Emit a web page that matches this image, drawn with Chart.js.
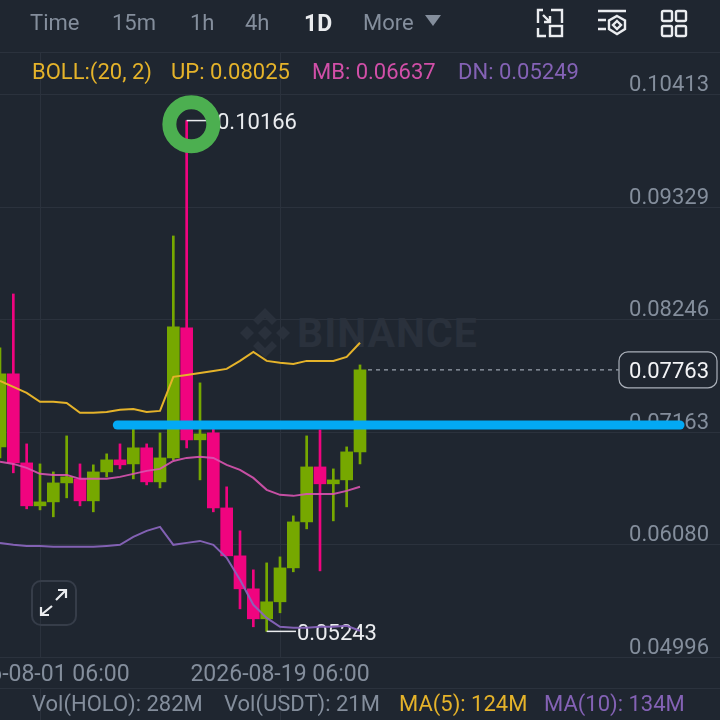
<!DOCTYPE html>
<html>
<head>
<meta charset="utf-8">
<title>HOLO 1D</title>
<script src="https://cdn.jsdelivr.net/npm/chart.js@4"></script>
<style>
  html, body { margin: 0; padding: 0; background: #1f2630; }
  #wrap { position: relative; width: 720px; height: 720px; overflow: hidden; background: #1f2630; font-family: Roboto, sans-serif; }
  #wrap span { position: absolute; white-space: nowrap; line-height: 1; }
  #c { position: absolute; left: 0; top: 0; }
  .tab { top: 12px; font-size: 22px; color: #848e9c; }
  .boll { top: 61px; font-size: 22px; }
  .vol { top: 693px; font-size: 22px; color: #848e9c; }
  .sep { position: absolute; background: #2b323d; }
  svg { position: absolute; }
</style>
</head>
<body>
<div id="wrap">
  <!-- watermark sits under the transparent canvas -->
  <svg style="left:240px;top:308px" width="50" height="50" viewBox="0 0 50 50" fill="#2a313c">
    <path d="M25 0 L37 12 L32 17 L25 10 L18 17 L13 12 Z"/>
    <path d="M25 50 L37 38 L32 33 L25 40 L18 33 L13 38 Z"/>
    <path d="M25 18 L32 25 L25 32 L18 25 Z"/>
    <path d="M7 18 L14 25 L7 32 L0 25 Z"/>
    <path d="M43 18 L50 25 L43 32 L36 25 Z"/>
  </svg>
  <span style="left:297px;top:313px;font-size:41px;font-weight:700;color:#2a313c;letter-spacing:1px">BINANCE</span>

  <canvas id="c" width="720" height="720"></canvas>

  <div class="sep" style="left:0;top:52px;width:720px;height:1px"></div>
  <div class="sep" style="left:0;top:688px;width:720px;height:1px"></div>
  <div class="sep" style="left:40px;top:688px;width:1px;height:32px"></div>
  <div class="sep" style="left:280px;top:688px;width:1px;height:32px"></div>

  <span class="tab" style="left:30px">Time</span>
  <span class="tab" style="left:112px">15m</span>
  <span class="tab" style="left:190px">1h</span>
  <span class="tab" style="left:245px">4h</span>
  <span class="tab" style="left:304px;color:#eaecef;font-weight:700;font-size:23px">1D</span>
  <span class="tab" style="left:363px">More</span>
  <svg style="left:425px;top:15px" width="16" height="12"><path d="M0 0 H16 L8 11 Z" fill="#848e9c"/></svg>

  <svg style="left:535px;top:8px" width="30" height="30" fill="none" stroke="#eaecef" stroke-width="2.4">
    <path d="M16 2 H27 V15 M3 15 V2 H8 M3 20 V28 H11"/>
    <path d="M8 7 L15 14 M9 14 H15 V8"/>
    <rect x="15" y="18" width="12" height="10"/>
  </svg>
  <svg style="left:596px;top:8px" width="32" height="30" fill="none" stroke="#eaecef" stroke-width="2.4">
    <path d="M2 3 H30 M2 12 H10 M2 21 H10"/>
    <path d="M21 8 L29 12.5 V21 L21 26 L13 21 V12.5 Z"/>
    <path d="M21 13 L25 17 L21 21 L17 17 Z"/>
  </svg>
  <svg style="left:660px;top:8px" width="28" height="30" fill="none" stroke="#eaecef" stroke-width="2.4">
    <rect x="2" y="3" width="10" height="10" rx="1.5"/>
    <rect x="16" y="3" width="10" height="10" rx="1.5"/>
    <rect x="2" y="18" width="10" height="10" rx="1.5"/>
    <rect x="16" y="18" width="10" height="10" rx="1.5"/>
  </svg>

  <span class="boll" style="left:32px;color:#e5b32a">BOLL:(20, 2)</span>
  <span class="boll" style="left:171px;color:#e5b32a">UP: 0.08025</span>
  <span class="boll" style="left:312px;color:#d14fa8">MB: 0.06637</span>
  <span class="boll" style="left:458px;color:#8462b5">DN: 0.05249</span>

  <span class="vol" style="left:32px">Vol(HOLO): 282M</span>
  <span class="vol" style="left:224px">Vol(USDT): 21M</span>
  <span class="vol" style="left:399px;color:#e5b32a">MA(5): 124M</span>
  <span class="vol" style="left:544px;color:#8462b5">MA(10): 134M</span>

  <svg style="left:31px;top:580px" width="46" height="46" fill="none">
    <rect x="1" y="1" width="44" height="44" rx="9" stroke="#363d49" stroke-width="2"/>
    <path d="M10 27 V35 H18 M10 35 L21 26 M35 18 V10 H27 M35 10 L25 20" stroke="#eaecef" stroke-width="2.2"/>
  </svg>
</div>

<script>
const dias = ['2026-07-29 06:00', '2026-07-30 06:00', '2026-07-31 06:00', '2026-08-01 06:00', '2026-08-02 06:00',
  '2026-08-03 06:00', '2026-08-04 06:00', '2026-08-05 06:00', '2026-08-06 06:00', '2026-08-07 06:00',
  '2026-08-08 06:00', '2026-08-09 06:00', '2026-08-10 06:00', '2026-08-11 06:00', '2026-08-12 06:00',
  '2026-08-13 06:00', '2026-08-14 06:00', '2026-08-15 06:00', '2026-08-16 06:00', '2026-08-17 06:00',
  '2026-08-18 06:00', '2026-08-19 06:00', '2026-08-20 06:00', '2026-08-21 06:00', '2026-08-22 06:00',
  '2026-08-23 06:00', '2026-08-24 06:00', '2026-08-25 06:00'];

const abertura = [.07021, .07725, .06867, .06453, .06491, .06674, .06713, .06501, .06780, .06896,
  .06857, .07012, .06684, .06915, .08168, .07089, .07156, .06433, .05971, .05653,
  .05364, .05528, .05855, .06298, .06828, .06665, .06703, .06973];
const fechamento = [.07725, .06867, .06453, .06491, .06674, .06732, .06501, .06780, .06896, .06848,
  .07012, .06684, .06915, .08177, .07089, .07146, .06433, .05971, .05653, .05364,
  .05528, .05855, .06298, .06828, .06665, .06703, .06973, .07763];
const maxima = [.07975, .08495, .07050, .06857, .06780, .07127, .06857, .06848, .06954, .07050,
  .07195, .07050, .07156, .09054, .10166, .07638, .07195, .06636, .06212, .05836,
  .05903, .05961, .06356, .07127, .07185, .06809, .07021, .07811];
const minima = [.06915, .06771, .06424, .06414, .06347, .06530, .06453, .06395, .06732, .06809,
  .06713, .06655, .06626, .06896, .07012, .06703, .06395, .05971, .05460, .05287,
  .05243, .05422, .05817, .06231, .05826, .06308, .06443, .06857];

const bollUp = [.07657, .07599, .07541, .07455, .07455, .07445, .07349, .07349, .07358, .07378,
  .07387, .07358, .07368, .07696, .07715, .07734, .07753, .07773, .07850, .07937,
  .07850, .07831, .07821, .07850, .07850, .07850, .07888, .08025];
const bollMb = [.06877, .06857, .06819, .06761, .06751, .06751, .06713, .06713, .06713, .06732,
  .06761, .06790, .06809, .06886, .06915, .06925, .06915, .06848, .06800, .06722,
  .06607, .06559, .06549, .06568, .06568, .06568, .06597, .06637];
const bollDn = [.06096, .06077, .06067, .06067, .06058, .06058, .06058, .06058, .06067, .06077,
  .06154, .06212, .06250, .06077, .06096, .06115, .06077, .05952, .05740, .05499,
  .05373, .05287, .05277, .05277, .05287, .05287, .05296, .05249];

const ticksPreco = [.10413, .09329, .08246, .07163, .06080, .04996];
const ticksDias = [3, 21];
const precoMax = .10166;
const precoMin = .05243;
const precoAtual = .07763;
const linhaAzul = .07232;
const precoCirculo = .10130;

const verde = '#76a800';
const rosa = '#f0047f';
const fundo = '#1f2630';
const corEixo = '#848e9c';

const cores = abertura.map((a, i) => fechamento[i] >= a ? verde : rosa);
const serie = arr => arr.map((v, i) => ({ x: i, y: v }));
const reta = (x1, x2, y) => [{ x: x1, y: y }, { x: x2, y: y }];

function linha(dados, cor, ordem, largura) {
  return { type: 'line', data: dados, borderColor: cor, borderWidth: largura, pointRadius: 0, tension: 0, order: ordem };
}

// textos que dependem da escala de preço
const textos = {
  id: 'textos',
  beforeDatasetsDraw(chart) {
    const { ctx, scales } = chart;
    ctx.save();
    ctx.font = '22px Roboto';
    ctx.fillStyle = '#eaecef';
    ctx.textBaseline = 'middle';
    ctx.fillText(precoMax.toFixed(5), 217, scales.y.getPixelForValue(precoMax) + 3);
    ctx.fillText(precoMin.toFixed(5), 297, scales.y.getPixelForValue(precoMin) + 3);
    ctx.restore();
  },
  afterDatasetsDraw(chart) {
    const { ctx, scales } = chart;
    const y = scales.y.getPixelForValue(precoAtual);
    ctx.save();
    ctx.beginPath();
    ctx.roundRect(619, y - 18, 98, 36, 9);
    ctx.fillStyle = fundo;
    ctx.fill();
    ctx.strokeStyle = '#aab0b9';
    ctx.lineWidth = 1.2;
    ctx.stroke();
    ctx.font = '22px Roboto';
    ctx.fillStyle = '#f3f4f6';
    ctx.textAlign = 'right';
    ctx.textBaseline = 'middle';
    ctx.fillText(precoAtual.toFixed(5), 709, y + 3);
    ctx.restore();
  }
};

new Chart(document.getElementById('c'), {
  type: 'bar',
  plugins: [textos],
  data: {
    datasets: [
      { data: serie(minima).map((p, i) => ({ x: i, y: [p.y, maxima[i]] })), backgroundColor: cores, barThickness: 2, grouped: false, order: 6 },
      { data: serie(abertura).map((p, i) => ({ x: i, y: [p.y, fechamento[i]] })), backgroundColor: cores, barThickness: 12, grouped: false, order: 5 },
      linha(serie(bollUp), '#e5b32a', 3, 2),
      linha(serie(bollMb), 'rgba(216,84,176,0.9)', 3, 2),
      linha(serie(bollDn), 'rgba(136,100,186,0.95)', 3, 2),
      linha(reta(14, 15.5, precoMax), '#eaecef', 4, 1.5),
      linha(reta(20, 22.2, precoMin), '#eaecef', 4, 1.5),
      Object.assign(linha(reta(27.6, 46.4, precoAtual), '#9aa2ad', 4, 1.2), { borderDash: [4, 4] }),
      Object.assign(linha(reta(8.8, 51, linhaAzul), '#03a9f4', 1, 9), { borderCapStyle: 'round' }),
      {
        type: 'line', data: [{ x: 14.35, y: precoCirculo }], showLine: false, order: 0,
        pointRadius: 22, pointBorderWidth: 14, pointBorderColor: '#4caf50', pointBackgroundColor: 'transparent'
      }
    ]
  },
  options: {
    responsive: false,
    animation: false,
    layout: { autoPadding: false, padding: { top: 52, bottom: 32, left: 0, right: 0 } },
    plugins: { legend: { display: false }, tooltip: { enabled: false } },
    events: [],
    scales: {
      x: {
        type: 'linear', min: 0, max: 54, offset: false,
        afterBuildTicks(s) { s.ticks = ticksDias.map(v => ({ value: v })); },
        afterFit(s) { s.height = 31; s.paddingLeft = 0; s.paddingRight = 0; },
        grid: { color: '#2b323d', lineWidth: 1, drawTicks: false, offset: false },
        border: { display: false },
        ticks: {
          autoSkip: false, maxRotation: 0, padding: 4, color: corEixo,
          font: { family: 'Roboto', size: 23 },
          callback: v => dias[v]
        }
      },
      y: {
        position: 'right', min: .04996, max: .10827,
        afterBuildTicks(s) { s.ticks = ticksPreco.map(v => ({ value: v })); },
        afterFit(s) { s.width = 0; },
        grid: { color: '#2b323d', lineWidth: 1, drawTicks: false },
        border: { display: false },
        ticks: {
          mirror: true, autoSkip: false, padding: -11, labelOffset: -9, color: corEixo,
          font: { family: 'Roboto', size: 22 },
          callback: v => v.toFixed(5)
        }
      }
    }
  }
});
</script>
</body>
</html>
